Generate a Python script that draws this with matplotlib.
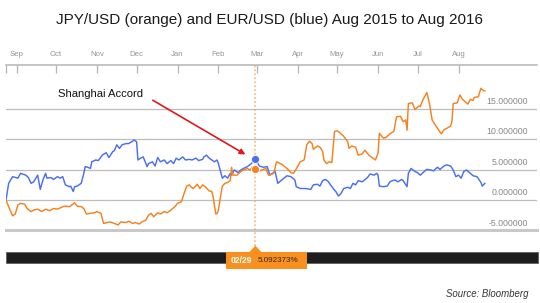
import numpy as np
import pandas as pd
import matplotlib
matplotlib.use('Agg')
import matplotlib.pyplot as plt
from matplotlib.patches import Rectangle, Polygon

plt.rcParams['font.family'] = ['Liberation Sans', 'DejaVu Sans']

# -----------------------------------------------------------------------------
# % change since 24 Aug 2015 (x = days since start)

start = pd.Timestamp('2015-08-24')

eur_days = [0, 2, 5, 9, 11, 15, 17, 19, 21, 24,
            26, 28, 30, 31, 34, 36, 39, 41, 43, 45,
            48, 49, 51, 52, 54, 57, 59, 60, 62, 64,
            65, 68, 70, 73, 76, 78, 81, 82, 84, 86,
            88, 91, 93, 96, 97, 99, 100, 102, 104, 107,
            108, 111, 113, 115, 117, 120, 122, 125, 127, 129,
            131, 134, 136, 139, 141, 144, 146, 149, 150, 152,
            154, 156, 158, 160, 161, 163, 164, 166, 168, 170,
            171, 173, 176, 178, 180, 183, 186, 189, 192, 195,
            198, 200, 204, 206, 209, 213, 216, 219, 220, 223,
            227, 231, 233, 236, 238, 240, 242, 244, 246, 248,
            250, 252, 254, 256, 259, 261, 263, 265, 267, 270,
            274, 276, 279, 281, 282, 283, 286, 289, 291, 293,
            295, 297, 300, 301, 304, 305, 307, 310, 312, 314,
            317, 319, 322, 324, 327, 329, 332, 334, 337, 339,
            341, 343, 345, 347, 349, 352, 354, 357, 360, 361,
            363]
eur_vals = [0.0, 2.75, 3.85, 3.6, 4.4, 4.1, 3.7, 2.75, 3.0, 4.1,
            1.76, 3.3, 4.4, 3.6, 3.7, 3.4, 3.85, 3.6, 3.85, 2.5,
            2.2, 2.3, 1.4, 2.2, 2.3, 2.75, 4.4, 5.5, 5.4, 5.2,
            6.3, 6.6, 6.5, 7.4, 7.8, 7.0, 8.0, 8.1, 9.1, 8.5,
            9.1, 9.3, 9.3, 9.7, 9.9, 9.6, 6.6, 6.9, 7.1, 5.5,
            6.0, 6.3, 5.6, 7.0, 6.3, 6.6, 6.0, 6.5, 6.0, 6.9,
            6.6, 7.1, 6.6, 6.7, 6.6, 6.9, 6.5, 6.7, 7.1, 7.4,
            6.9, 6.6, 6.3, 6.6, 6.0, 4.4, 3.6, 4.0, 3.6, 4.4,
            4.1, 4.95, 4.5, 4.95, 5.2, 5.5, 6.0, 6.8, 5.6, 5.4,
            5.5, 4.1, 4.7, 2.75, 3.3, 4.0, 3.85, 3.3, 2.2, 1.9,
            1.9, 1.76, 2.5, 2.6, 2.3, 3.2, 3.4, 3.1, 2.5, 1.9,
            1.4, 0.66, 1.1, 1.9, 2.1, 1.9, 2.75, 2.5, 3.2, 3.0,
            3.7, 4.3, 4.1, 4.4, 4.1, 2.3, 2.2, 2.3, 3.0, 3.2,
            3.3, 3.0, 3.4, 3.2, 2.2, 4.4, 5.2, 4.7, 4.5, 4.1,
            4.7, 5.05, 4.95, 4.8, 5.4, 5.05, 5.6, 5.8, 5.6, 4.95,
            3.85, 4.1, 3.6, 4.7, 4.95, 4.4, 4.0, 3.85, 2.9, 2.3,
            2.75]

jpy_days = [0, 2, 5, 7, 9, 11, 14, 16, 19, 21,
            24, 27, 30, 33, 36, 39, 43, 45, 48, 50,
            52, 54, 57, 59, 61, 64, 67, 69, 72, 74,
            77, 79, 82, 85, 87, 91, 93, 96, 98, 101,
            103, 106, 108, 110, 112, 115, 117, 120, 122, 125,
            128, 130, 133, 135, 137, 139, 140, 142, 145, 147,
            149, 151, 154, 156, 157, 159, 160, 161, 163, 164,
            166, 168, 170, 171, 172, 175, 178, 180, 183, 185,
            187, 189, 192, 194, 197, 199, 203, 205, 209, 213,
            216, 218, 221, 223, 226, 228, 230, 232, 233, 236,
            238, 240, 241, 243, 245, 247, 249, 251, 253, 256,
            259, 260, 262, 265, 267, 270, 272, 275, 277, 280,
            282, 283, 286, 288, 291, 294, 296, 299, 301, 303,
            304, 305, 308, 310, 313, 314, 316, 319, 321, 323,
            325, 328, 330, 332, 334, 337, 338, 339, 342, 344,
            346, 348, 350, 352, 354, 355, 358, 360, 362, 363]
jpy_vals = [0.0, -1.1, -2.6, -2.3, -0.8, -0.55, -0.66, -1.4, -1.9, -1.65,
            -1.5, -1.9, -1.5, -1.76, -1.4, -1.5, -1.1, -1.0, -1.1, -0.8,
            -0.44, -1.0, -1.1, -1.4, -2.3, -2.2, -2.1, -1.9, -2.2, -3.85,
            -3.7, -3.6, -3.85, -4.1, -3.6, -3.7, -3.5, -3.85, -3.7, -3.95,
            -3.6, -3.3, -2.5, -2.2, -2.75, -2.1, -2.3, -1.9, -2.1, -1.65,
            -1.1, -0.55, -0.27, 1.1, 2.3, 2.5, 2.2, 1.9, 2.6, 1.9,
            2.5, 2.2, 1.5, 1.4, 0.55, -2.3, -2.2, -1.65, 1.1, 2.3,
            2.75, 2.9, 3.2, 5.4, 4.1, 4.1, 4.7, 4.95, 5.2, 4.95,
            5.5, 5.09, 4.8, 4.95, 5.2, 4.1, 4.4, 6.3, 5.9, 5.2,
            4.5, 4.4, 5.5, 6.3, 6.6, 9.1, 9.7, 9.3, 8.35, 8.9,
            8.7, 8.0, 6.6, 6.0, 6.3, 6.15, 11.3, 11.4, 11.1, 10.5,
            9.6, 8.5, 8.9, 8.7, 7.4, 7.6, 8.2, 7.4, 7.1, 6.6,
            7.7, 11.0, 10.2, 10.3, 10.9, 11.3, 13.7, 13.8, 12.9, 13.2,
            11.5, 15.9, 16.0, 14.9, 15.5, 15.4, 16.5, 17.7, 15.9, 13.2,
            12.5, 11.5, 10.9, 11.6, 11.8, 12.2, 12.9, 15.9, 16.0, 17.3,
            16.6, 16.2, 15.8, 16.6, 16.4, 16.9, 17.0, 18.4, 18.0, 18.0]

y_ticks = [-5, 0, 5, 10, 15]
accord_date = pd.Timestamp('2016-02-29')
accord_value = '5.092373%'

BLUE = '#4a6ff0'
ORANGE = '#f5821f'
GRID = '#bdbdbd'

# -----------------------------------------------------------------------------

fig = plt.figure(figsize=(5.4, 3.03), dpi=100)
W, H = 540., 303.
ax = fig.add_axes([6 / W, 1 - 230.4 / H, 531 / W, 165.4 / H])

ax.plot(eur_days, eur_vals, color=BLUE, lw=1.05, zorder=3)
ax.plot(jpy_days, jpy_vals, color=ORANGE, lw=1.05, zorder=3)

ax.set_xlim(0, 402.5)
ax.set_ylim(-5, 22.24)

for v in y_ticks:
    if v == y_ticks[0]:
        ax.axhline(v, color='#c9c9c9', lw=2.2, zorder=1, clip_on=False)
    else:
        ax.axhline(v, color=GRID, lw=0.9, zorder=1)
    ax.annotate('{:.6f}'.format(v), xy=(0.983, v),
                xycoords=('axes fraction', 'data'),
                xytext=(0, 5.3), textcoords='offset points',
                ha='right', va='center', fontsize=6.3, color='#888888')

# month ticks along the top
months = pd.date_range('2015-09-01', '2016-08-01', freq='MS')
ax.set_xticks([(m - start).days for m in months])
ax.set_xticklabels([m.strftime('%b') for m in months])
ax.set_xticks([0], minor=True)
ax.tick_params(which='both', top=True, bottom=False, labeltop=True,
               labelbottom=False, left=False, labelleft=False,
               direction='in', length=5.5, width=0.9, color='#b5b5b5',
               pad=5, labelsize=5.6, labelcolor='#959595')
ax.set_yticks([])
for side in ['left', 'right', 'bottom']:
    ax.spines[side].set_visible(False)
ax.spines['top'].set_color('#b5b5b5')
ax.spines['top'].set_linewidth(1.1)

# Feb 29 hover line and dots
acc_day = (accord_date - start).days
ax.axvline(acc_day, ymin=-0.093, ymax=1, color='#f7a848', lw=1.1,
           ls=(0, (1.2, 1.4)), zorder=2, clip_on=False, alpha=0.8)
ax.plot(acc_day, np.interp(acc_day, eur_days, eur_vals), 'o',
        color=BLUE, ms=5.8, mec='white', mew=0.6, zorder=4)
ax.plot(acc_day, np.interp(acc_day, jpy_days, jpy_vals), 'o',
        color=ORANGE, ms=5.8, mec='white', mew=0.6, zorder=4)

# annotation
ax.annotate('Shanghai Accord', xy=(181.5, 7.5), xytext=(71.5, 17.4),
            ha='center', va='center', fontsize=8.1, color='#111111',
            arrowprops=dict(arrowstyle='-|>', color='#e3161b', lw=1.2,
                            mutation_scale=8, relpos=(1.0, 0.5),
                            shrinkA=6, shrinkB=0))

fig.text(269 / W, 1 - 20 / H,
         'JPY/USD (orange) and EUR/USD (blue) Aug 2015 to Aug 2016',
         ha='center', va='center', fontsize=11, color='#1a1a1a')

# navigator bar with tooltip
fig.patches.append(Rectangle((6 / W, 1 - 263 / H), 532 / W, 11.2 / H,
                             transform=fig.transFigure, facecolor='#1e1e1e',
                             edgecolor='#606060', lw=0.6))
fig.canvas.draw()
tip = fig.transFigure.inverted().transform(
    ax.transData.transform((acc_day, 0)))[0] * W
fig.patches.append(Rectangle(((tip - 29.3) / W, 1 - 268.8 / H), 80.7 / W,
                             17 / H, transform=fig.transFigure,
                             facecolor='#f7901e', edgecolor='none'))
fig.patches.append(Polygon([((tip - 6) / W, 1 - 252 / H),
                            (tip / W, 1 - 245.6 / H),
                            ((tip + 6) / W, 1 - 252 / H)],
                           closed=True, transform=fig.transFigure,
                           facecolor='#f7901e', edgecolor='none'))
fig.text((tip - 14) / W, 1 - 260.5 / H, accord_date.strftime('%m/%d'),
         ha='center', va='center', fontsize=6.2, color='white',
         fontweight='bold')
fig.text((tip + 23) / W, 1 - 260.5 / H, accord_value,
         ha='center', va='center', fontsize=5.8, color='#3b2812')

fig.text(528 / W, 1 - 294 / H, 'Source: Bloomberg', ha='right', va='center',
         fontsize=6.9, style='italic', color='#333333')

plt.savefig('out.png', dpi=100)
plt.close()
